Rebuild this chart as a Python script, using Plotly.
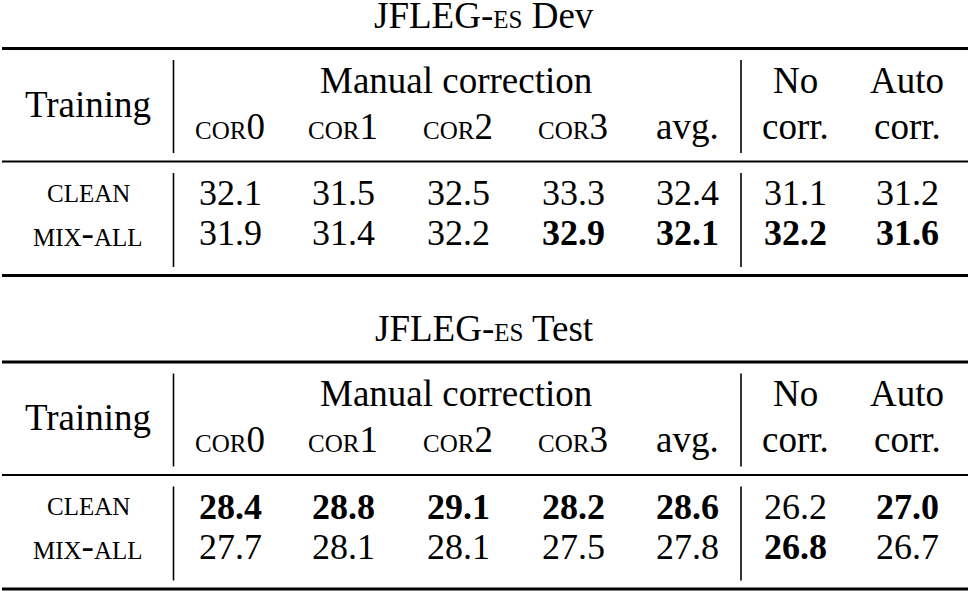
import plotly.graph_objects as go

# ---- data ----
col_labels = ["cor0", "cor1", "cor2", "cor3", "avg.", "No corr.", "Auto corr."]
row_labels = ["clean", "mix-all"]
table_titles = ["JFLEG-es Dev", "JFLEG-es Test"]

dev_clean = [32.1, 31.5, 32.5, 33.3, 32.4, 31.1, 31.2]
dev_mix_all = [31.9, 31.4, 32.2, 32.9, 32.1, 32.2, 31.6]
dev_clean_bold = [0, 0, 0, 0, 0, 0, 0]
dev_mix_all_bold = [0, 0, 0, 1, 1, 1, 1]

test_clean = [28.4, 28.8, 29.1, 28.2, 28.6, 26.2, 27.0]
test_mix_all = [27.7, 28.1, 28.1, 27.5, 27.8, 26.8, 26.7]
test_clean_bold = [1, 1, 1, 1, 1, 0, 1]
test_mix_all_bold = [0, 0, 0, 0, 0, 1, 0]

tables = [
    (table_titles[0], [dev_clean, dev_mix_all], [dev_clean_bold, dev_mix_all_bold]),
    (table_titles[1], [test_clean, test_mix_all], [test_clean_bold, test_mix_all_bold]),
]

# ---- layout geometry ----
FONT = "Liberation Serif"
BIG = 37
NUM = 36
SMALL = 25
col_x = [230, 343, 458, 573, 687, 795, 907]
label_x = 88
manual_x = 456
vline1_x = 173.5
vline2_x = 741
offsets = [0, 313.5]


def sc(text, small=SMALL):
    """Small caps: lower-case letters drawn as smaller capitals."""
    out = []
    buf = ""
    mode = None
    for ch in text:
        m = "low" if ch.islower() else "up"
        if m != mode and buf:
            out.append((mode, buf))
            buf = ""
        mode = m
        buf += ch
    if buf:
        out.append((mode, buf))
    s = ""
    for m, b in out:
        if m == "low":
            s += "<span style='font-size:%dpx'>%s</span>" % (small, b.upper())
        else:
            s += b
    return s


fig = go.Figure()
annotations = []
shapes = []


def ann(x, y, text, size=BIG):
    annotations.append(dict(
        x=x, y=y, xref="x", yref="y", text=text, showarrow=False,
        xanchor="center", yanchor="middle",
        font=dict(family=FONT, size=size, color="black"),
    ))


def hline(y, w):
    shapes.append(dict(type="line", xref="x", yref="y", x0=2, x1=968, y0=y, y1=y,
                       line=dict(color="black", width=w)))


def vline(x, y0, y1):
    shapes.append(dict(type="line", xref="x", yref="y", x0=x, x1=x, y0=y0, y1=y1,
                       line=dict(color="black", width=1.6)))


for (title, rows, bolds), off in zip(tables, offsets):
    # title
    t_main, t_rest = title.split("-", 1)
    sub, word = t_rest.split(" ", 1)
    ann(484, 15 + off, t_main + "-" + sc(sub) + " " + word)
    # rules
    hline(48.5 + off, 3.2)
    hline(161.5 + off, 2.2)
    hline(275.5 + off, 3.2)
    # vertical separators
    vline(vline1_x, 60 + off, 153 + off)
    vline(vline2_x, 60 + off, 153 + off)
    vline(vline1_x, 173 + off, 267 + off)
    vline(vline2_x, 173 + off, 267 + off)
    # header
    ann(label_x, 104 + off, "Training")
    ann(manual_x, 80 + off, "Manual correction")
    for i, lab in enumerate(col_labels):
        if " " in lab:
            top, bot = lab.split(" ")
            ann(col_x[i], 80 + off, top)
            ann(col_x[i], 126 + off, bot)
        elif lab.startswith("cor"):
            ann(col_x[i], 126 + off, sc(lab))
        else:
            ann(col_x[i], 126 + off, lab)
    # body
    row_y = [193 + off, 233 + off]
    for r, (vals, bflags) in enumerate(zip(rows, bolds)):
        ann(label_x, row_y[r], sc(row_labels[r]))
        for i, v in enumerate(vals):
            txt = "%.1f" % v
            if bflags[i]:
                txt = "<b>" + txt + "</b>"
            ann(col_x[i], row_y[r], txt, size=NUM)

W, H = 970, 596
fig.update_layout(
    width=W, height=H,
    margin=dict(l=0, r=0, t=0, b=0),
    paper_bgcolor="white", plot_bgcolor="white",
    xaxis=dict(range=[0, W], visible=False, fixedrange=True),
    yaxis=dict(range=[H, 0], visible=False, fixedrange=True),
    annotations=annotations, shapes=shapes, showlegend=False,
)

# remove the default page margin so the figure sits at the window's top-left corner
fig.write_html(
    "out.html",
    config={"displayModeBar": False},
    post_script="document.body.style.margin='0px';document.body.style.overflow='hidden';",
)
